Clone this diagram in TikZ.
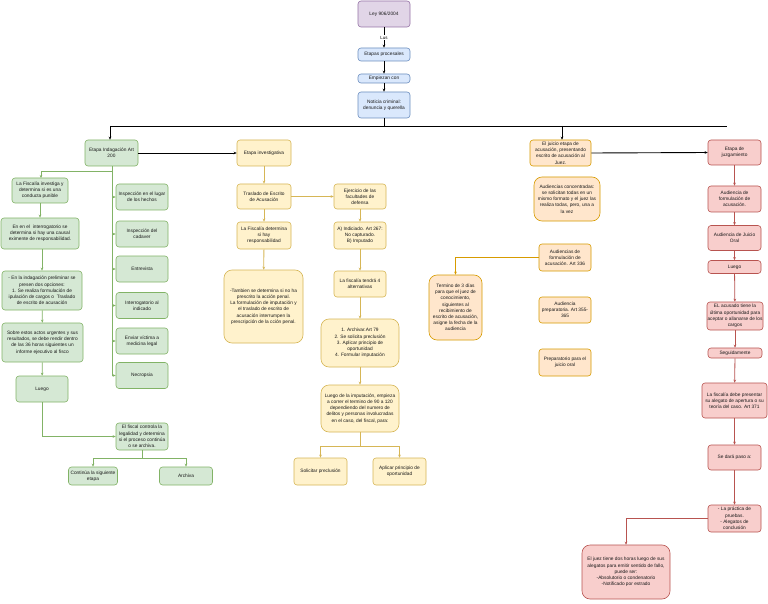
\documentclass[tikz,border=0pt]{standalone}
\usepackage{fontspec}
\setmainfont{Liberation Sans}
\usetikzlibrary{arrows.meta}
\definecolor{pfill}{HTML}{E1D5E7}\definecolor{pline}{HTML}{9673A6}
\definecolor{bfill}{HTML}{DAE8FC}\definecolor{bline}{HTML}{6C8EBF}
\definecolor{gfill}{HTML}{D5E8D4}\definecolor{gline}{HTML}{82B366}
\definecolor{yfill}{HTML}{FFF2CC}\definecolor{yline}{HTML}{D6B656}
\definecolor{ofill}{HTML}{FFE6CC}\definecolor{oline}{HTML}{D79B00}
\definecolor{rfill}{HTML}{F8CECC}\definecolor{rline}{HTML}{B85450}
\tikzset{
  bx/.style={rectangle, rounded corners=3pt, draw, line width=0.6pt, align=center, inner sep=0.3pt,
    font=\fontsize{4.8}{6.2}\selectfont, text=black!90},
  wh/.style 2 args={minimum width=#1pt, minimum height=#2pt},
  pbox/.style={bx, fill=pfill, draw=pline},
  bbox/.style={bx, fill=bfill, draw=bline},
  gbox/.style={bx, fill=gfill, draw=gline},
  ybox/.style={bx, fill=yfill, draw=yline},
  obox/.style={bx, fill=ofill, draw=oline},
  rbox/.style={bx, fill=rfill, draw=rline},
  big/.style={rounded corners=8pt},
  tip/.style={-{Stealth[length=3pt,width=2.6pt]}},
  karr/.style={tip, draw=black, line width=0.9pt},
  garr/.style={tip, draw=gline, line width=0.8pt},
  yarr/.style={tip, draw=yline, line width=0.8pt},
  oarr/.style={tip, draw=oline, line width=0.8pt},
  rarr/.style={tip, draw=rline, line width=0.8pt},
}
\begin{document}
\begin{tikzpicture}[x=1pt,y=-1pt]
\useasboundingbox[fill=white] (0,0) rectangle (768,604);
% top
\node[pbox, wh={52}{26}] (ley) at (384,14) {Ley 906/2004};
\node[bbox, wh={52}{13}] (etp) at (384,54.5) {Etapas procesales};
\node[bbox, wh={52}{9}] (emp) at (384,78.5) {Empiezan con};
\node[bbox, wh={52}{26}] (not) at (384,105) {Noticia criminal:\\denuncia y querella};
\draw[karr] (ley) -- node[fill=white, inner sep=0.5pt, font=\fontsize{4.5}{5}\selectfont]{Lus} (etp);
\draw[karr] (etp) -- (emp);
\draw[karr] (emp) -- (not);
\coordinate (hl) at (110,126);
\coordinate (hr) at (727,126);
\draw[line width=0.9pt] (not.south) -- (384,126);
\draw[line width=0.9pt] (hl) -- (hr);
% green
\node[gbox, wh={53}{26}] (ind) at (111.5,153) {Etapa Indagación Art\\200};
\node[gbox, wh={56}{25}] (fis) at (40,190.5) {La Fiscalía investiga y\\determina si es una\\conducta punible};
\node[gbox, wh={78}{31}] (int) at (40,233.5) {En en el\ \ interrogatorio se\\determina si hay una causal\\eximente de responsabilidad.};
\node[gbox, wh={80}{39}] (pre) at (42,290.5) {- En la indagación preliminar se\\presen dos opciones:\\1. Se realiza formulación de\\ipulación de cargos o\ \ Traslado\\de escrito de acusación};
\node[gbox, wh={81}{39}] (sob) at (42.5,342.5) {Sobre estos actos urgentes y sus\\resultados, se debe rendir dentro\\de las 36 horas siguientes un\\informe ejecutivo al fisco};
\node[gbox, wh={52}{26}] (lu1) at (42,389) {Luego};
\node[gbox, wh={52}{27}] (fcl) at (142,436.5) {El fiscal controla la\\legalidad y determina\\si el proceso continúa\\o se archiva.};
\node[gbox, wh={49}{18}] (con) at (93,476) {Continúa la siguiente\\etapa};
\node[gbox, wh={53}{18}] (arc) at (186,476) {Archiva};
\node[gbox, wh={52}{26}] (i1) at (142,197) {Inspección en el lugar\\de los hechos};
\node[gbox, wh={52}{26}] (i2) at (142,234) {Inspección del\\cadaver};
\node[gbox, wh={52}{26}] (i3) at (142,269) {Entrevista};
\node[gbox, wh={52}{26}] (i4) at (142,305.5) {Interrogatorio al\\indicado};
\node[gbox, wh={52}{26}] (i5) at (142,341) {Enviar víctima a\\medicina legal};
\node[gbox, wh={52}{26}] (i6) at (142,375.5) {Necropsia};
\draw[karr] (hl) -- (ind.north -| hl);
\draw[garr] (ind.south -| 112,0) -- (112,171) -| (41,178);
\draw[draw=gline, line width=0.8pt] (112,171) -- (112,375.5);
\foreach \n in {i1,i2,i3,i4,i5,i6}{\draw[garr] (112,0 |- \n.west) -- (\n.west);}
\draw[garr] (fis) -- (int);
\draw[garr] (int.south -| 42,0) -- (pre.north);
\draw[garr] (pre) -- (sob);
\draw[garr] (sob) -- (lu1);
\draw[garr] (lu1.south) |- (fcl.west);
\draw[draw=gline, line width=0.8pt] (fcl.south) -- (142,458);
\draw[garr] (142,458) -| (con.north);
\draw[garr] (142,458) -| (arc.north);
% yellow
\node[ybox, wh={54}{26}] (ein) at (264,153) {Etapa investigativa};
\node[ybox, wh={54}{25}] (tra) at (264,196.5) {Traslado de Escrito\\de Acusación};
\node[ybox, wh={54}{27}] (fde) at (264,235.5) {La Fiscalía determina\\si hay\\responsabilidad};
\node[ybox, big, wh={79}{73}] (tam) at (263.5,306.5) {-Tambien se determina si no ha\\prescrito la acción penal.\\La formulación de imputación y\\el traslado de escrito de\\acusación interrumpen la\\prescripción de la cción penal.};
\node[ybox, wh={52}{25}] (eje) at (360,196.5) {Ejercicio de las\\facultades de\\defensa};
\node[ybox, wh={52}{27}] (ain) at (360,235.5) {A) Indiciado. Art 267:\\No capturado.\\B) Imputado};
\node[ybox, wh={52}{26}] (fte) at (360,284) {La fiscalía tendrá 4\\alternativas};
\node[ybox, big, wh={78}{48}] (alt) at (360,343) {1. Archivar.Art 79\\2. Se solicita preclusión\\3. Aplicar principio de\\oportunidad\\4. Formular imputación};
\node[ybox, big, wh={78}{47}] (lim) at (360,408.5) {Luego de la imputación, empieza\\a correr el termino de 90 a 120\\dependiendo del numero de\\delitos y personas involucradas\\en el caso, del fiscal, para:};
\node[ybox, wh={53}{27}] (sol) at (320.5,471.5) {Solicitar preclusión};
\node[ybox, wh={53}{27}] (apl) at (399.5,471.5) {Aplicar principio de\\oportunidad};
\draw[karr] (ind.east) -- (ein.west);
\draw[yarr] (ein) -- (tra);
\draw[yarr] (tra) -- (fde);
\draw[yarr] (fde) -- (tam);
\draw[yarr] (tra) -- (eje);
\draw[yarr] (eje) -- (ain);
\draw[yarr] (ain) -- (fte);
\draw[yarr] (fte) -- (alt);
\draw[yarr] (alt) -- (lim);
\draw[draw=yline, line width=0.8pt] (lim.south) -- (360,446);
\draw[yarr] (360,446) -| (sol.north);
\draw[yarr] (360,446) -| (apl.north);
% orange
\node[obox, wh={61}{26}] (jui) at (560.5,153) {El juicio etapa de\\acusación, presentando\\escrito de acusación al\\Juez.};
\node[obox, big, wh={66}{44}] (aco) at (567,199) {Audiencias concentradas:\\se solicitan todas en un\\mismo formato y el juez las\\realiza todas, pero, una a\\la vez};
\node[obox, wh={52}{27}] (afo) at (565,257.5) {Audiencias de\\formulación de\\acusación. Art 336};
\node[obox, big, wh={53}{65}] (ter) at (455.5,307.5) {Termino de 3 días\\para que el juez de\\conocimiento,\\siguientes al\\recibimiento de\\escrito de acusación,\\asigne la fecha de la\\audiencia};
\node[obox, wh={52}{26}] (apr) at (565,310) {Audiencia\\preparatoria. Art 355-\\365};
\node[obox, wh={52}{27}] (ppj) at (565,362.5) {Preparatorio para el\\juicio oral};
\draw[karr] (562,126) -- (562,0 |- jui.north);
\draw[oarr] (afo.west) -| (ter.north);
% red
\node[rbox, wh={53}{25}] (juz) at (734.5,152.5) {Etapa de\\juzgamiento};
\node[rbox, wh={53}{26}] (afa) at (734.5,199) {Audiencia de\\formulación de\\acusación.};
\node[rbox, wh={53}{25}] (ajo) at (734.5,238) {Audiencia de Juicio\\Oral};
\node[rbox, wh={53}{13}] (lu2) at (734.5,267) {Luego};
\node[rbox, wh={56}{28}] (acu) at (735,316) {EL acusado tiene la\\última oportunidad para\\aceptar o allanarse de los\\cargos};
\node[rbox, wh={54}{10}] (seg) at (735,353) {Seguidamente};
\node[rbox, wh={65}{35}] (fdb) at (734.5,400.5) {La fiscalía debe presentar\\su alegato de apertura o su\\teoría del caso. Art 371};
\node[rbox, wh={53}{25}] (sed) at (734.5,457.5) {Se dará paso a:};
\node[rbox, wh={53}{27}] (pra) at (734.5,518.5) {- La práctica de\\pruebas.\\- Alegatos de\\conclusión};
\node[rbox, big, wh={88}{54}] (jue) at (626,572) {El juez tiene dos horas luego de sus\\alegatos para emitir sentido de fallo,\\puede ser:\\-Absolutorio o condenatorio\\-Notificado por estrado};
\draw[karr] (jui.east) -- (juz.west);
\draw[rarr] (juz) -- (afa);
\draw[rarr] (afa) -- (ajo);
\draw[rarr] (ajo) -- (lu2);
\draw[rarr] (lu2) -- (acu);
\draw[rarr] (acu) -- (seg);
\draw[rarr] (seg) -- (fdb);
\draw[rarr] (fdb) -- (sed);
\draw[rarr] (sed) -- (pra);
\draw[rarr] (pra.west) -| (jue.north);
\end{tikzpicture}
\end{document}
